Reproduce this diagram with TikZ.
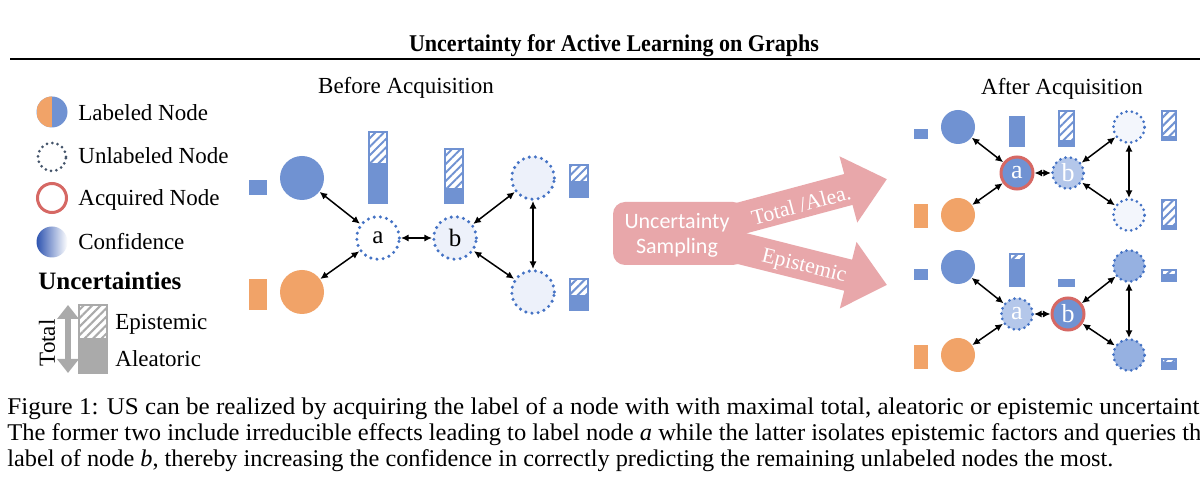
\documentclass[tikz,border=0pt]{standalone}
\usepackage{fontspec}
\newfontfamily\timesf{Liberation Serif}
\newfontfamily\calf{Carlito}
\usetikzlibrary{arrows.meta,patterns.meta}
\definecolor{blueN}{RGB}{112,146,210}
\definecolor{orangeN}{RGB}{241,163,104}
\definecolor{dotblue}{RGB}{68,114,196}
\definecolor{legdot}{RGB}{68,84,106}
\definecolor{acqred}{RGB}{214,104,100}
\definecolor{confB}{RGB}{46,84,176}
\definecolor{lightA}{RGB}{237,241,250}
\definecolor{lightB}{RGB}{180,199,234}
\definecolor{vlight}{RGB}{243,246,252}
\definecolor{midB}{RGB}{150,177,225}
\definecolor{pinkA}{RGB}{232,167,170}
\definecolor{grayA}{RGB}{170,170,170}
\newsavebox\fitbox
\newcommand\fitto[2]{\sbox\fitbox{#2}\pgfmathsetmacro\fitfac{#1/\the\wd\fitbox}\scalebox{\fitfac}[1]{\usebox\fitbox}}
\newcommand\uncbar[6]{%
  \fill[white] (#1,#2) rectangle (#3,#4);
  \fill[pattern={Lines[angle=45,distance=3pt,line width=1pt]},pattern color=#6] (#1,#2) rectangle (#3,#4);
  \fill[#6] (#1,#4) rectangle (#3,#5);
  \draw[#6,line width=0.6pt] (#1,#2) rectangle (#3,#5);}
\begin{document}
\begin{tikzpicture}[x=0.5pt,y=-0.5pt,
  gnode/.style={circle,inner sep=0pt,minimum size=#1},
  dotb/.style={draw=dotblue,line width=1.7pt,dash pattern=on 0pt off 3.1pt,line cap=round},
  dots/.style={draw=dotblue,line width=1.5pt,dash pattern=on 0pt off 2.7pt,line cap=round},
  acqb/.style={draw=acqred,line width=1.5pt},
  conn/.style={<->,line width=0.75pt,>={Latex[length=3.8pt,width=3.6pt]}},
  figtxt/.style={font=\timesf\fontsize{11.5}{13}\selectfont,inner sep=0pt},
  captxt/.style={font=\timesf\fontsize{12}{13}\selectfont,inner sep=0pt,anchor=base west},
  pinktxt/.style={text=white,inner sep=0pt}]
\useasboundingbox (0,0) rectangle (1200,491);
\clip (0,0) rectangle (1200,491);
\fill[white] (0,0) rectangle (1200,491);
% title and rule
\node[anchor=base,inner sep=0pt] (title) at (614,52) {\fitto{205}{\timesf\bfseries\fontsize{12}{13}\selectfont Uncertainty for Active Learning on Graphs}};
\coordinate (ruleL) at (10,59);
\coordinate (ruleR) at (1200,59);
\draw[line width=1.2pt] (ruleL) -- (ruleR);
% legend
\node[gnode=15.5pt,fill=blueN,path picture={\fill[orangeN] (path picture bounding box.north west) rectangle (path picture bounding box.south);}] (lglab) at (52,112) {};
\node[figtxt,anchor=base west] (lglabt) at (78,121) {Labeled Node};
\node[gnode=14pt,draw=legdot,line width=1.5pt,dash pattern=on 0pt off 2.7pt,line cap=round] (lgunl) at (52,157) {};
\node[figtxt,anchor=base west] (lgunlt) at (78,164) {Unlabeled Node};
\node[gnode=14.5pt,acqb,fill=white] (lgacq) at (52,198) {};
\node[figtxt,anchor=base west] (lgacqt) at (78,206) {Acquired Node};
\node[gnode=15.5pt,left color=confB,right color=white,draw=none] (lgconf) at (52,242) {};
\node[figtxt,anchor=base west] (lgconft) at (78,250) {Confidence};
\node[figtxt,anchor=base west,font=\timesf\fontsize{12.5}{13}\selectfont\bfseries] (lgunc) at (38,290) {Uncertainties};
\coordinate (ttop) at (68,305);
\coordinate (tbot) at (68,373);
\draw[grayA,line width=3.4pt,{Triangle[length=7pt,width=10.5pt]}-{Triangle[length=7pt,width=10.5pt]}] (ttop) -- (tbot);
\node[figtxt,rotate=90] (lgtot) at (47,343) {Total};
\uncbar{79}{305}{107}{338}{373}{grayA}
\node[figtxt,anchor=base west] (lgepi) at (115,330) {Epistemic};
\node[figtxt,anchor=base west] (lgale) at (115,367) {Aleatoric};
% before acquisition
\node[figtxt,anchor=base] (before) at (406,94) {Before Acquisition};
\fill[blueN] (249,180) rectangle (267,195);
\fill[orangeN] (249,279) rectangle (267,310);
\uncbar{369}{132}{387}{163}{203}{blueN}
\uncbar{445}{149}{463}{188}{203}{blueN}
\uncbar{570}{165}{588}{181}{197}{blueN}
\uncbar{570}{279}{588}{295}{310}{blueN}
\node[gnode=22pt,fill=blueN] (B1) at (302,178) {};
\node[gnode=22pt,fill=orangeN] (O1) at (302,292) {};
\node[gnode=21.3pt,dotb,fill=white,font=\timesf\fontsize{12.5}{12}\selectfont] (A1) at (378,238) {a};
\node[gnode=21.3pt,dotb,fill=lightA,font=\timesf\fontsize{12.5}{12}\selectfont] (N1) at (455,238) {b};
\node[gnode=21.3pt,dotb,fill=lightA] (T1) at (533,178) {};
\node[gnode=21.3pt,dotb,fill=lightA] (D1) at (533,292) {};
\draw[conn] (B1) -- (A1);
\draw[conn] (O1) -- (A1);
\draw[conn] (A1) -- (N1);
\draw[conn] (N1) -- (T1);
\draw[conn] (N1) -- (D1);
\draw[conn] (T1) -- (D1);
% big pink arrow
\fill[pinkA,rounded corners=6pt] (613,202) rectangle (745,265);
\coordinate (up0) at (700,229.2);
\coordinate (up1) at (887,179.1);
\coordinate (lo0) at (700,238.1);
\coordinate (lo1) at (887,284.9);
\draw[pinkA,line width=16pt,-{Triangle[length=20pt,width=33pt]}] (up0) -- (up1);
\draw[pinkA,line width=16pt,-{Triangle[length=20pt,width=33pt]}] (lo0) -- (lo1);
\node[pinktxt,align=center,font=\calf\fontsize{11}{12.5}\selectfont] (us) at (677,235.5) {Uncertainty\\Sampling};
\node[pinktxt,rotate=15,font=\timesf\fontsize{10.8}{12}\selectfont] (tal) at (801,205) {Total /Alea.};
\node[pinktxt,rotate=-14,font=\timesf\fontsize{10.8}{12}\selectfont] (epi) at (804,267) {Epistemic};
% after acquisition
\node[figtxt,anchor=base] (after) at (1062,95) {After Acquisition};
% upper graph
\fill[blueN] (914,129) rectangle (928,139);
\fill[orangeN] (914,204) rectangle (928,228);
\uncbar{1010}{117}{1024}{117}{146}{blueN}
\uncbar{1059}{111}{1074}{140}{146}{blueN}
\uncbar{1162}{111}{1176}{136}{140}{blueN}
\uncbar{1162}{200}{1176}{225}{229}{blueN}
\node[gnode=17pt,fill=blueN] (B2) at (958,127) {};
\node[gnode=17pt,fill=orangeN] (O2) at (958,215) {};
\node[gnode=16pt,acqb,fill=blueN,text=white,font=\timesf\fontsize{13}{12}\selectfont] (A2) at (1017,173) {a};
\node[gnode=15.6pt,dots,fill=lightB,text=white,font=\timesf\fontsize{13}{12}\selectfont] (N2) at (1068,173) {b};
\node[gnode=15.6pt,dots,fill=vlight] (T2) at (1129,127) {};
\node[gnode=15.6pt,dots,fill=vlight] (D2) at (1129,215) {};
\draw[conn] (B2) -- (A2);
\draw[conn] (O2) -- (A2);
\draw[conn] (A2) -- (N2);
\draw[conn] (N2) -- (T2);
\draw[conn] (N2) -- (D2);
\draw[conn] (T2) -- (D2);
% lower graph
\fill[blueN] (914,269) rectangle (928,280);
\fill[orangeN] (914,345) rectangle (928,369);
\uncbar{1010}{254}{1024}{259}{286}{blueN}
\uncbar{1059}{280}{1074}{280}{286}{blueN}
\uncbar{1162}{270}{1176}{274}{281}{blueN}
\uncbar{1162}{359}{1176}{362}{369}{blueN}
\node[gnode=17pt,fill=blueN] (B3) at (958,267) {};
\node[gnode=17pt,fill=orangeN] (O3) at (958,355) {};
\node[gnode=15.6pt,dots,fill=lightB,text=white,font=\timesf\fontsize{13}{12}\selectfont] (A3) at (1017,314) {a};
\node[gnode=16pt,acqb,fill=blueN,text=white,font=\timesf\fontsize{13}{12}\selectfont] (N3) at (1068,314) {b};
\node[gnode=15.6pt,dots,fill=midB] (T3) at (1129,266) {};
\node[gnode=15.6pt,dots,fill=midB] (D3) at (1129,355) {};
\draw[conn] (B3) -- (A3);
\draw[conn] (O3) -- (A3);
\draw[conn] (A3) -- (N3);
\draw[conn] (N3) -- (T3);
\draw[conn] (N3) -- (D3);
\draw[conn] (T3) -- (D3);
% caption
\node[captxt] (cap1) at (7,415) {\fitto{596}{Figure 1: US can be realized by acquiring the label of a node with with maximal total, aleatoric or epistemic uncertaint}};
\node[captxt] (cap2) at (7,441) {\fitto{597}{The former two include irreducible effects leading to label node \textit{a} while the latter isolates epistemic factors and queries th}};
\node[captxt] (cap3) at (7,467) {\fitto{553}{label of node \textit{b}, thereby increasing the confidence in correctly predicting the remaining unlabeled nodes the most.}};
\end{tikzpicture}
\end{document}
